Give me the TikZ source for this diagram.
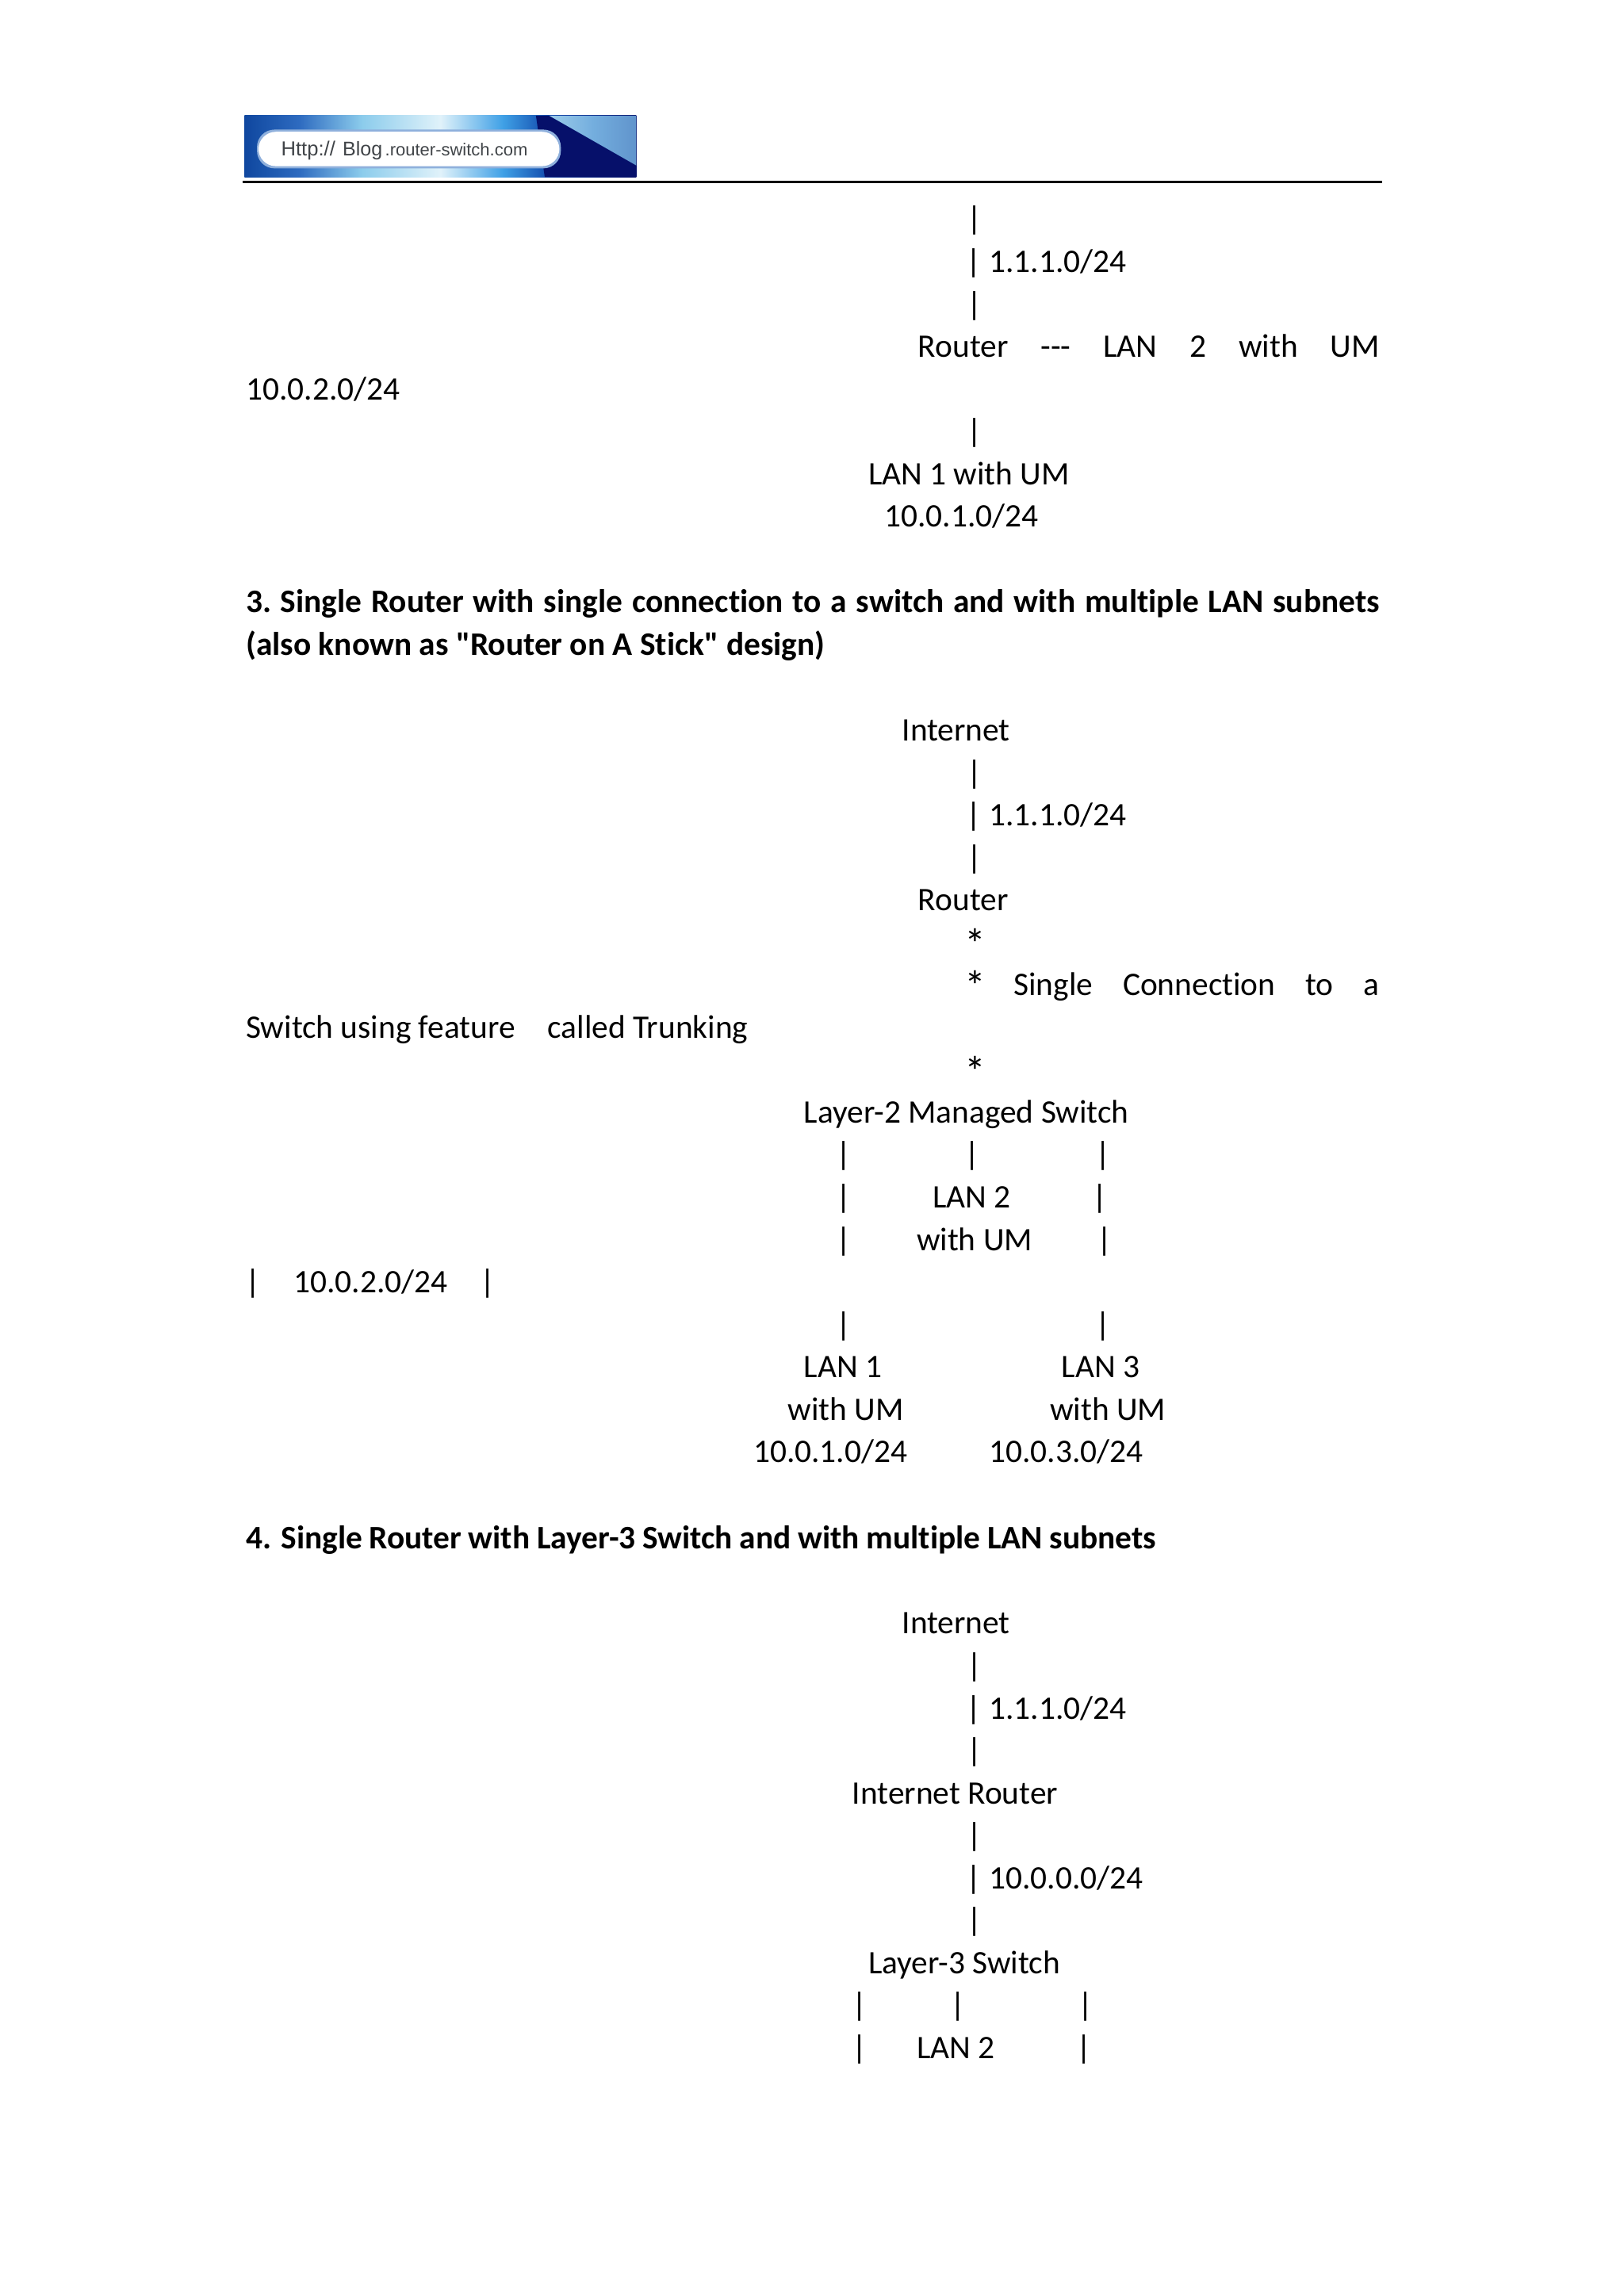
\documentclass[tikz,border=0pt]{standalone}
\usepackage{fontspec}
\setmainfont{Carlito}[Ligatures={TeXOff,NoCommon}]
\newfontfamily\logofont{Liberation Sans}
\definecolor{logotext}{HTML}{404448}
\definecolor{logonavy}{HTML}{06106A}
\definecolor{lgA}{HTML}{0F479F}
\definecolor{lgB}{HTML}{2E6BC0}
\definecolor{lgC}{HTML}{8CCCEC}
\definecolor{lgD}{HTML}{E0F2FA}
\definecolor{lgE}{HTML}{3FA0E6}
\definecolor{lgF}{HTML}{0838A0}
\definecolor{lgG}{HTML}{06106A}
\definecolor{lgH}{HTML}{9CCCEA}
\definecolor{lgI}{HTML}{74AEDE}
\definecolor{lgJ}{HTML}{6094CC}
\definecolor{lgEdge}{HTML}{8FB0DC}
\pgfdeclarehorizontalshading{logoback}{100bp}{
  color(0bp)=(lgA);
  color(25bp)=(lgA);
  color(32bp)=(lgB);
  color(40bp)=(lgC);
  color(50bp)=(lgD);
  color(58bp)=(lgE);
  color(65bp)=(lgF);
  color(75bp)=(lgG);
  color(100bp)=(lgG)}
\pgfdeclarehorizontalshading{logocorner}{100bp}{
  color(0bp)=(lgH);
  color(25bp)=(lgH);
  color(50bp)=(lgI);
  color(75bp)=(lgJ);
  color(100bp)=(lgJ)}
\newlength{\jw}
\tikzset{
  x=0.92335pt,y=-0.92335pt,
  txt/.style={anchor=base west,inner sep=0pt,outer sep=0pt,font=\fontsize{20.7pt}{25pt}\selectfont},
  hdg/.style={txt,font=\fontsize{20.7pt}{25pt}\selectfont\bfseries},
  logotxt/.style={anchor=base west,inner sep=0pt,outer sep=0pt,text=logotext}
}
\newcommand{\J}[2]{\setlength{\jw}{#1pt}\setlength{\jw}{0.92335\jw}\makebox[\jw][s]{#2}}
\newcommand{\Star}{\rlap{\hspace{-1.8pt}\raisebox{-3.6pt}{\scalebox{1.3}{*}}}\phantom{*}}
\begin{document}
\begin{tikzpicture}
\useasboundingbox (0,0) rectangle (1109,1568.2);
\fill[white] (0,0) rectangle (1109,1568.2);
% logo banner
\shade[shading=logoback] (167,79) rectangle (434.5,121);
\fill[logonavy] (375,79) -- (434.5,113) -- (434.5,121) -- (372,121) -- (366,79) -- cycle;
\shade[shading=logocorner] (375,79) -- (434.5,79) -- (434.5,113) -- cycle;
\fill[lgEdge,rounded corners=11pt] (175.5,88.5) rectangle (383,115);
\fill[white,rounded corners=11pt] (176.5,90) rectangle (382,113.5);
\node[logotxt,font=\logofont\fontsize{12.8pt}{15pt}\selectfont] (logoa) at (192,106.5) {Http://};
\node[logotxt,font=\logofont\fontsize{12.5pt}{15pt}\selectfont] (logob) at (234,106.5) {Blog};
\node[logotxt,font=\logofont\fontsize{11pt}{13pt}\selectfont] (logoc) at (263,106.5) {.router-switch.com};
\draw[line width=1.5pt] (165.5,124) -- (944,124);
% section 2 tail
\node[txt] (a1) at (660.5,157) {|};
\node[txt] (a2) at (660,186) {| 1.1.1.0/24};
\node[txt] (a3) at (660.5,215) {|};
\node[txt] (a4) at (627,244) {\J{315}{Router\hfill---\hfill LAN\hfill 2\hfill with\hfill UM}};
\node[txt] (a5) at (168,273) {10.0.2.0/24};
\node[txt] (a6) at (660.5,302) {|};
\node[txt] (a7) at (593,331) {LAN 1 with UM};
\node[txt] (a8) at (604,360) {10.0.1.0/24};
% section 3
\node[hdg] (h3a) at (168,418.5) {\J{774}{3.\hfill Single\hfill Router\hfill with\hfill single\hfill connection\hfill to\hfill a\hfill switch\hfill and\hfill with\hfill multiple\hfill LAN\hfill subnets}};
\node[hdg] (h3b) at (168,447.5) {(also known as "Router on A Stick" design)};
\node[txt] (b1) at (616,506) {Internet};
\node[txt] (b2) at (660.5,535) {|};
\node[txt] (b3) at (660,564) {| 1.1.1.0/24};
\node[txt] (b4) at (660.5,593) {|};
\node[txt] (b5) at (627,622) {Router};
\node[txt] (b6) at (660.5,651) {\Star};
\node[txt] (b7) at (660.5,680) {\J{281.5}{\Star\hfill Single\hfill Connection\hfill to\hfill a}};
\node[txt] (b8) at (168,709) {Switch using feature};
\node[txt] (b9) at (374,709) {called Trunking};
\node[txt] (b10) at (660.5,738) {\Star};
\node[txt] (b11) at (549,767) {Layer-2 Managed Switch};
\node[txt] (c1) at (571,796) {|};
\node[txt] (c2) at (659,796) {|};
\node[txt] (c3) at (748,796) {|};
\node[txt] (c4) at (571,825) {|};
\node[txt] (c5) at (637,825) {LAN 2};
\node[txt] (c6) at (746,825) {|};
\node[txt] (c7) at (571,854) {|};
\node[txt] (c8) at (626,854) {with UM};
\node[txt] (c9) at (749,854) {|};
\node[txt] (c10) at (167.5,883) {|};
\node[txt] (c11) at (200.5,883) {10.0.2.0/24};
\node[txt] (c12) at (328,883) {|};
\node[txt] (c13) at (571,912) {|};
\node[txt] (c14) at (748,912) {|};
\node[txt] (d1) at (549,941) {LAN 1};
\node[txt] (d2) at (725,941) {LAN 3};
\node[txt] (d3) at (538,970) {with UM};
\node[txt] (d4) at (717,970) {with UM};
\node[txt] (d5) at (514.5,999) {10.0.1.0/24};
\node[txt] (d6) at (675.5,999) {10.0.3.0/24};
% section 4
\node[hdg] (h4) at (168,1058) {\J{621.5}{4. Single Router with Layer-3 Switch and with multiple LAN subnets}};
\node[txt] (e1) at (616,1116) {Internet};
\node[txt] (e2) at (660.5,1145) {|};
\node[txt] (e3) at (660,1174) {| 1.1.1.0/24};
\node[txt] (e4) at (660.5,1203) {|};
\node[txt] (e5) at (582,1232) {Internet Router};
\node[txt] (e6) at (660.5,1261) {|};
\node[txt] (e7) at (660,1290) {| 10.0.0.0/24};
\node[txt] (e8) at (660.5,1319) {|};
\node[txt] (e9) at (593,1348) {Layer-3 Switch};
\node[txt] (f1) at (582,1377) {|};
\node[txt] (f2) at (649,1377) {|};
\node[txt] (f3) at (736,1377) {|};
\node[txt] (f4) at (582,1406) {|};
\node[txt] (f5) at (626,1406) {LAN 2};
\node[txt] (f6) at (735,1406) {|};
\end{tikzpicture}
\end{document}
